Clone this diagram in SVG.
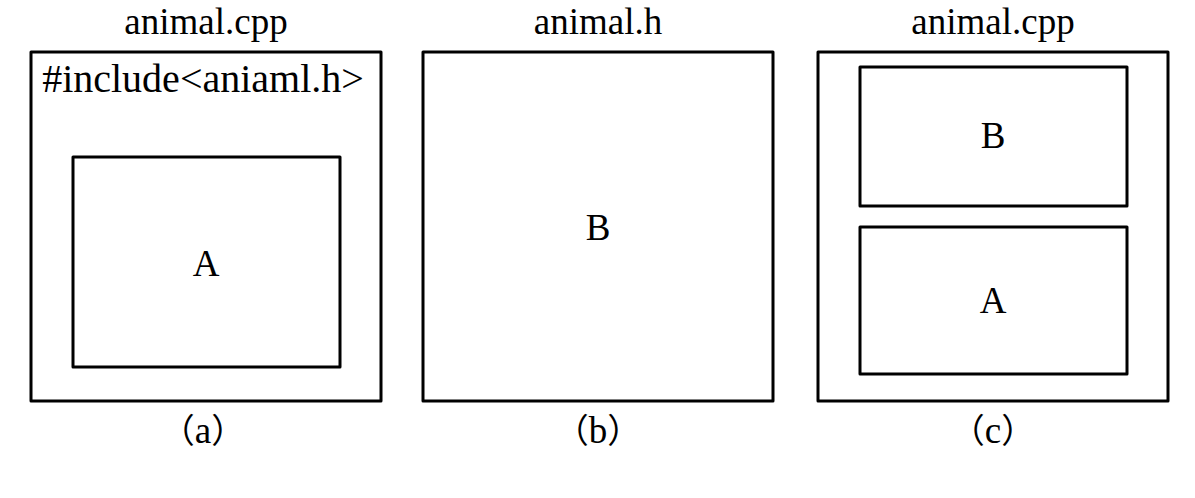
<svg xmlns="http://www.w3.org/2000/svg" width="1195" height="498" viewBox="0 0 1195 498">
<style>
.box{fill:#fff;stroke:#000;stroke-width:3;stroke-linejoin:round}
.t{font-family:"Liberation Serif","Noto Sans CJK SC",serif;font-size:37px;fill:#000;text-anchor:middle}
.inc{font-size:40px}
.cap{font-family:"Noto Sans CJK SC","Liberation Serif",serif;font-size:34px;fill:#000;text-anchor:middle}
.cl{font-family:"Liberation Serif",serif;font-size:37px}
</style>
<rect width="1195" height="498" fill="#fff"/>
<g id="panel-a">
<text class="t" x="206" y="34">animal.cpp</text>
<rect class="box" x="31" y="52" width="350" height="349"/>
<text class="t inc" x="203" y="92">#include&lt;aniaml.h&gt;</text>
<g id="a-A">
<rect class="box" x="73" y="157" width="267" height="210"/>
<text class="t" x="206" y="276">A</text>
</g>
<text class="cap" x="203" y="443">（<tspan class="cl">a</tspan>）</text>
</g>
<g id="panel-b">
<text class="t" x="598" y="34">animal.h</text>
<rect class="box" x="423" y="52" width="350" height="349"/>
<text class="t" x="598" y="240">B</text>
<text class="cap" x="598" y="443">（<tspan class="cl">b</tspan>）</text>
</g>
<g id="panel-c">
<text class="t" x="993" y="34">animal.cpp</text>
<rect class="box" x="818" y="52" width="350" height="349"/>
<g id="c-B">
<rect class="box" x="860" y="67" width="267" height="139"/>
<text class="t" x="993" y="148">B</text>
</g>
<g id="c-A">
<rect class="box" x="860" y="227" width="267" height="147"/>
<text class="t" x="993" y="313">A</text>
</g>
<text class="cap" x="993" y="443">（<tspan class="cl">c</tspan>）</text>
</g>
<g id="connectors"/>
</svg>
